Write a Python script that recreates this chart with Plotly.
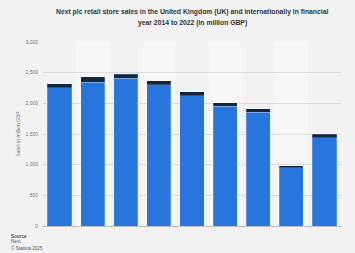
import plotly.graph_objects as go

years = ["2014", "2015", "2016", "2017", "2018", "2019", "2020", "2021", "2022"]
uk_sales = [2252, 2346, 2405, 2307, 2127, 1953, 1855, 949, 1443]
international_sales = [68, 87, 72, 60, 60, 54, 54, 33, 49]
y_ticks = [0, 500, 1000, 1500, 2000, 2500, 3000]
y_tick_labels = ["0", "500", "1,000", "1,500", "2,000", "2,500", "3,000"]

W, H = 355, 253
l, r, t, b = 43, 14, 42, 27
pw, ph = W - l - r, H - t - b


def px(xp):
    return (xp - l) / pw


def py(yp):
    return (H - b - yp) / ph


fig = go.Figure()
fig.add_trace(go.Bar(
    x=years, y=uk_sales, name="UK",
    marker=dict(color="#2876dd", line=dict(color="rgba(255,255,255,0.35)", width=0.6)),
))
fig.add_trace(go.Bar(
    x=years, y=international_sales, name="International",
    marker=dict(color="#10263f", line=dict(color="rgba(255,255,255,0.35)", width=0.6)),
))

shapes = []
for i in range(len(years)):
    if i % 2 == 1:
        shapes.append(dict(type="rect", xref="x", yref="paper",
                           x0=i - 0.5, x1=i + 0.5, y0=0, y1=1,
                           fillcolor="#f6f6f6", line=dict(width=0), layer="below"))

annotations = [
    dict(text="<b>Next plc retail store sales in the United Kingdom (UK) and internationally in financial</b>",
         x=0.5, xref="paper", y=py(11.5), yref="paper", xanchor="center", yanchor="middle",
         showarrow=False, font=dict(size=6.8, color="#333")),
    dict(text="<b>year 2014 to 2022 (in million GBP)</b>",
         x=0.5, xref="paper", y=py(23.5), yref="paper", xanchor="center", yanchor="middle",
         showarrow=False, font=dict(size=6.8, color="#333")),
]
for txt, yy in [("<b>Source</b>", 236), ("Next", 241.5), ("© Statista 2025", 247.5)]:
    annotations.append(dict(text=txt, xref="paper", yref="paper", x=px(9), y=py(yy),
                            xanchor="left", yanchor="middle", showarrow=False,
                            font=dict(size=4.6, color="#555")))

fig.update_layout(
    barmode="stack",
    bargap=0.27,
    width=W, height=H,
    margin=dict(l=l, r=r, t=t, b=b),
    paper_bgcolor="#f2f2f2",
    plot_bgcolor="#f2f2f2",
    showlegend=False,
    shapes=shapes,
    annotations=annotations,
    font=dict(family="Liberation Sans, Arial, sans-serif", color="#666"),
    xaxis=dict(
        type="category", showticklabels=False, showgrid=False,
        showline=True, linecolor="#bdbdbd", linewidth=1,
        range=[-0.5, len(years) - 0.5],
    ),
    yaxis=dict(
        range=[0, 3000], tickvals=y_ticks, ticktext=y_tick_labels,
        tickfont=dict(size=5, color="#777"),
        showgrid=True, gridcolor="#dddddd", gridwidth=0.7,
        zeroline=False, ticklabelstandoff=4,
        title=dict(text="Sales in million GBP", font=dict(size=5, color="#777"), standoff=4),
    ),
)

fig.write_html("out.html")
